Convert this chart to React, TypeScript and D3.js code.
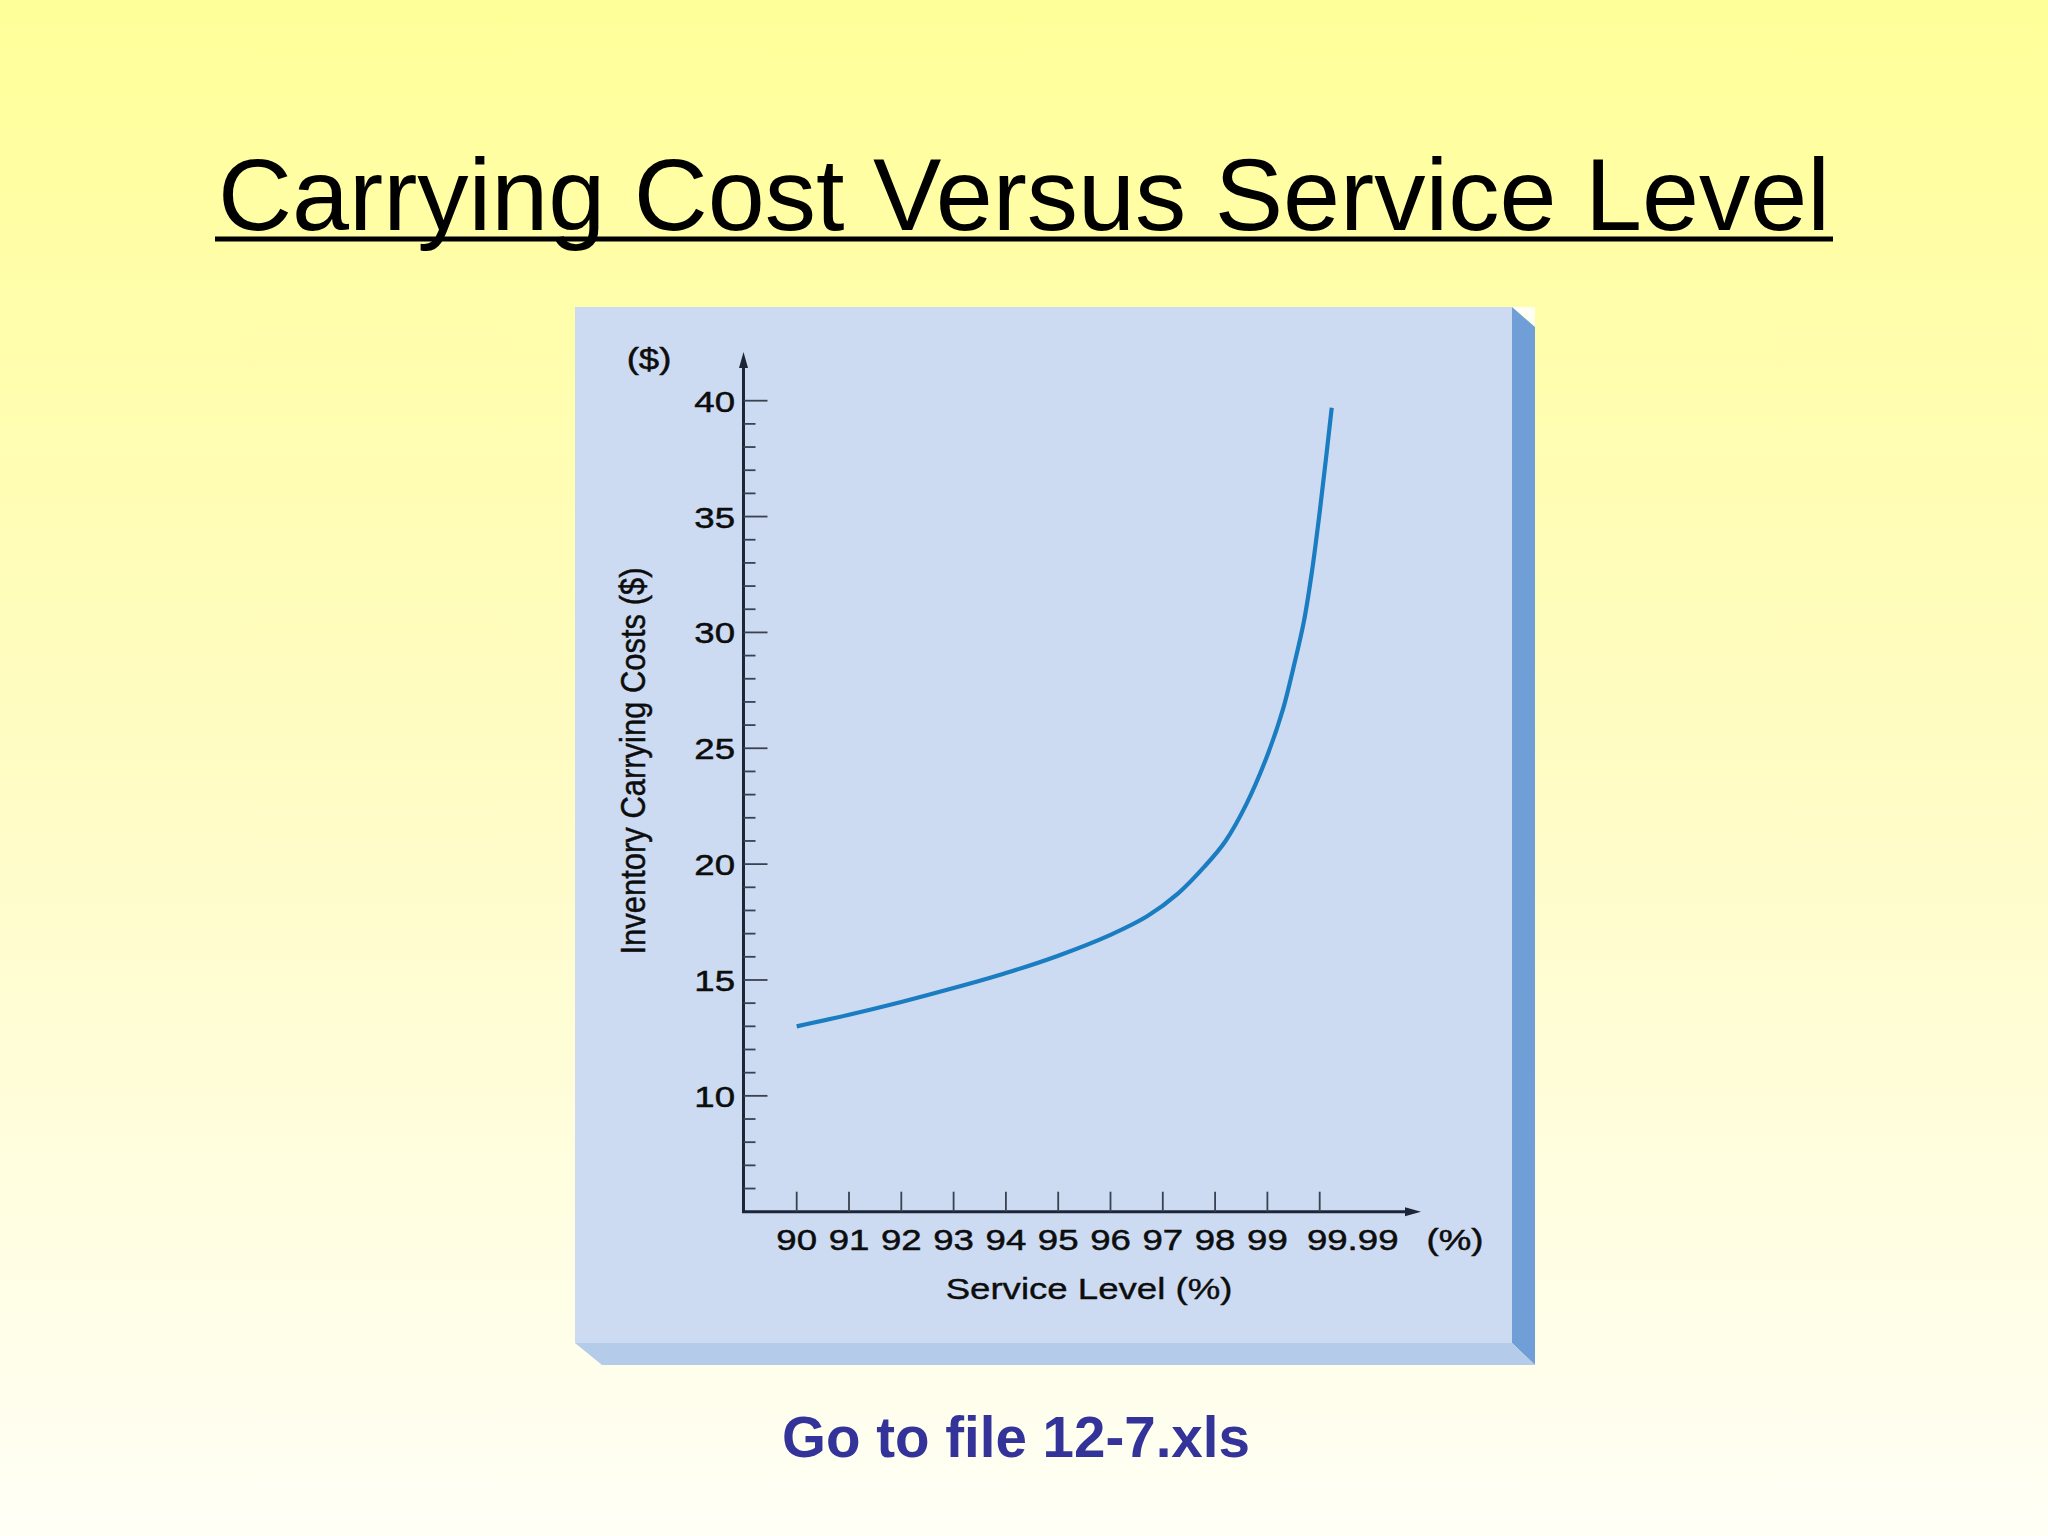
import React from "react";
import * as d3 from "d3";

// ---- data ----
const titleText = "Carrying Cost Versus Service Level";
const footerText = "Go to file 12-7.xls";
const yAxisTitle = "Inventory Carrying Costs ($)";
const xAxisTitle = "Service Level (%)";
const yUnit = "($)";
const xUnit = "(%)";

// service-level categories, evenly spaced along the x axis (position = index)
const xTickLabels = ["90", "91", "92", "93", "94", "95", "96", "97", "98", "99", "99.99"];
const yMajorTicks = [10, 15, 20, 25, 30, 35, 40];
const yMinorTicks = [6, 7, 8, 9, 11, 12, 13, 14, 16, 17, 18, 19, 21, 22, 23, 24, 26, 27, 28, 29, 31, 32, 33, 34, 36, 37, 38, 39];

// curve: axis position (0 = 90%, 10 = 99.99%) and carrying cost ($)
const curvePos = [0, 1, 2, 3, 4, 5, 6, 6.7, 7.3, 7.8, 8.2, 8.6, 9.0, 9.3, 9.5, 9.7, 9.85, 10.0, 10.12, 10.23];
const curveCost = [13.0, 13.5, 14.05, 14.65, 15.3, 16.05, 16.95, 17.75, 18.75, 19.9, 21.0, 22.6, 24.7, 26.7, 28.5, 30.5, 32.6, 35.2, 37.5, 39.7];

export default function App() {
  const W = 2048, H = 1536;
  const x = d3.scaleLinear().domain([0, 10]).range([796.7, 1319.7]);
  const y = d3.scaleLinear().domain([5, 40]).range([1211.7, 400.7]);
  const axisX = 743.5;
  const axisY = y(5);
  const sx = 1.22; // horizontal stretch of the figure's lettering
  const font = "'Liberation Sans', Arial, Helvetica, sans-serif";
  const axisColor = "#1c2638";
  const txt = "#0d0d0d";

  const pts: [number, number][] = curvePos.map((p, i) => [p, curveCost[i]]);
  const line = d3
    .line<[number, number]>()
    .x((d) => x(d[0]))
    .y((d) => y(d[1]))
    .curve(d3.curveCatmullRom.alpha(0.5));

  const panel = { l: 575, t: 307, r: 1512, b: 1343, d: 23 };

  return (
    <svg width={W} height={H} style={{ position: "absolute", left: 0, top: 0 }}>
      <defs>
        <linearGradient id="bg" x1="0" y1="0" x2="0" y2="1">
          <stop offset="0" stopColor="#ffff99" />
          <stop offset="0.5" stopColor="#fffcc4" />
          <stop offset="1" stopColor="#fffff6" />
        </linearGradient>
        <linearGradient id="corner" x1="0" y1="0" x2="1" y2="1">
          <stop offset="0" stopColor="#ffffff" />
          <stop offset="1" stopColor="#ffffea" />
        </linearGradient>
      </defs>
      <rect x={0} y={0} width={W} height={H} fill="url(#bg)" />

      {/* title */}
      <text
        x={1024}
        y={230}
        textAnchor="middle"
        fontFamily={font}
        fontSize={102}
        fill="#000"
        textLength={1612}
        lengthAdjust="spacingAndGlyphs"
      >
        {titleText}
      </text>
      <line x1={215} x2={1833} y1={239} y2={239} stroke="#000" strokeWidth={5} />

      {/* 3D panel */}
      <polygon
        points={`${panel.r},${panel.t} ${panel.r + panel.d},${panel.t} ${panel.r + panel.d},${panel.t + 20}`}
        fill="url(#corner)"
      />
      <polygon
        points={`${panel.r},${panel.t} ${panel.r + panel.d},${panel.t + 20} ${panel.r + panel.d},${panel.b + 22} ${panel.r},${panel.b}`}
        fill="#6f9fd6"
      />
      <polygon
        points={`${panel.l},${panel.b} ${panel.r},${panel.b} ${panel.r + panel.d},${panel.b + 22} ${panel.l + 27},${panel.b + 22}`}
        fill="#b4cbe9"
      />
      <rect x={panel.l} y={panel.t} width={panel.r - panel.l} height={panel.b - panel.t} fill="#ccdbf1" />

      {/* y axis */}
      <line x1={axisX} x2={axisX} y1={axisY} y2={362} stroke={axisColor} strokeWidth={3} />
      <polygon points={`${axisX},352 ${axisX - 4.5},368 ${axisX + 4.5},368`} fill={axisColor} />
      {yMinorTicks.map((v) => (
        <line key={"m" + v} x1={axisX} x2={axisX + 12} y1={y(v)} y2={y(v)} stroke="#3a4150" strokeWidth={1.8} />
      ))}
      {yMajorTicks.map((v) => (
        <g key={"M" + v}>
          <line x1={axisX} x2={axisX + 24} y1={y(v)} y2={y(v)} stroke="#3a4150" strokeWidth={1.8} />
          <text
            transform={`translate(735,${y(v) + 11}) scale(${sx},1)`}
            textAnchor="end"
            fontFamily={font}
            fontSize={30}
            fill={txt}
            stroke={txt}
            strokeWidth={0.5}
          >
            {v}
          </text>
        </g>
      ))}
      <text
        transform={`translate(649,369) scale(${sx},1)`}
        textAnchor="middle"
        fontFamily={font}
        fontSize={30}
        fill={txt}
        stroke={txt}
        strokeWidth={0.5}
      >
        {yUnit}
      </text>
      <text
        transform={`translate(645,761) scale(${sx},1) rotate(-90)`}
        textAnchor="middle"
        fontFamily={font}
        fontSize={29}
        fill={txt}
        stroke={txt}
        strokeWidth={0.4}
        textLength={387}
        lengthAdjust="spacingAndGlyphs"
      >
        {yAxisTitle}
      </text>

      {/* x axis */}
      <line x1={axisX - 1.5} x2={1410} y1={axisY} y2={axisY} stroke={axisColor} strokeWidth={3} />
      <polygon points={`1421,${axisY} 1405,${axisY - 4.5} 1405,${axisY + 4.5}`} fill={axisColor} />
      {xTickLabels.map((lab, i) => {
        const last = i === xTickLabels.length - 1;
        return (
          <g key={lab}>
            <line x1={x(i)} x2={x(i)} y1={axisY} y2={axisY - 20} stroke="#3a4150" strokeWidth={1.8} />
            <text
              transform={`translate(${x(i) + (last ? 33 : 0)},1250) scale(${sx},1)`}
              textAnchor="middle"
              fontFamily={font}
              fontSize={30}
              fill={txt}
              stroke={txt}
              strokeWidth={0.5}
            >
              {lab}
            </text>
          </g>
        );
      })}
      <text
        transform={`translate(1455,1250) scale(${sx},1)`}
        textAnchor="middle"
        fontFamily={font}
        fontSize={30}
        fill={txt}
        stroke={txt}
        strokeWidth={0.5}
      >
        {xUnit}
      </text>
      <text
        transform={`translate(1089,1299) scale(${sx},1)`}
        textAnchor="middle"
        fontFamily={font}
        fontSize={30}
        fill={txt}
        stroke={txt}
        strokeWidth={0.4}
      >
        {xAxisTitle}
      </text>

      {/* curve */}
      <path d={line(pts) ?? ""} fill="none" stroke="#1a7cc1" strokeWidth={4.2} strokeLinecap="butt" />

      {/* footer */}
      <text
        x={1016}
        y={1457}
        textAnchor="middle"
        fontFamily={font}
        fontWeight="bold"
        fontSize={56.5}
        fill="#333399"
      >
        {footerText}
      </text>
    </svg>
  );
}
